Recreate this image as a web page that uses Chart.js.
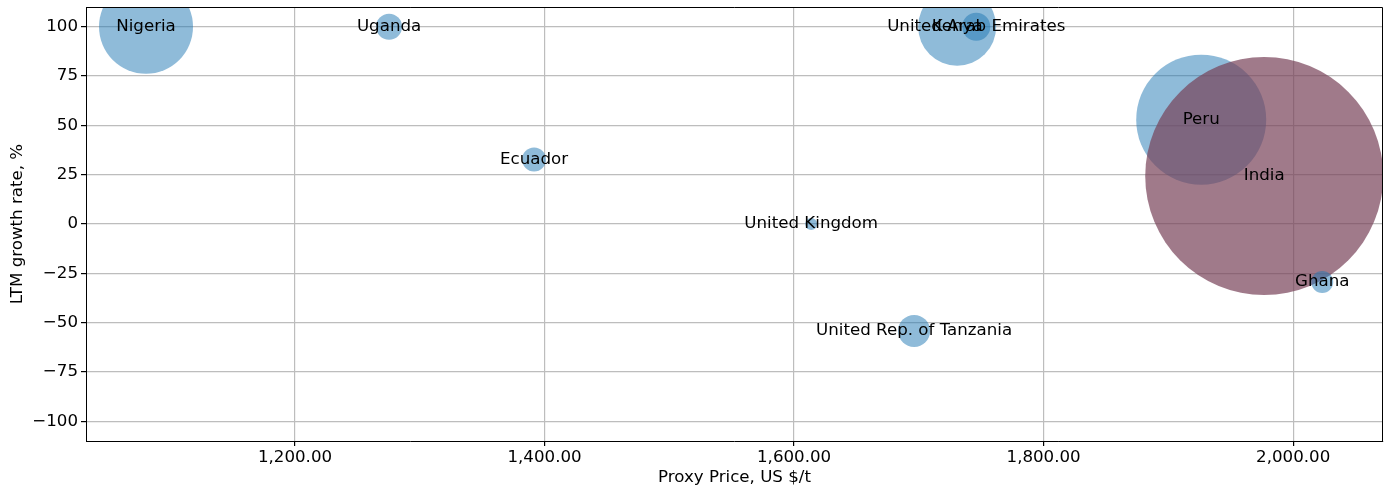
<!DOCTYPE html>
<html>
<head>
<meta charset="utf-8">
<script src="https://cdn.jsdelivr.net/npm/chart.js@4.4.1/dist/chart.umd.min.js"></script>
<style>
  html, body { margin: 0; padding: 0; background: #fff; }
  #wrap { width: 1389px; height: 489px; }
</style>
</head>
<body>
<div id="wrap"><canvas id="bubbleChart" width="1389" height="489"></canvas></div>
<script>
const countries = ["Nigeria", "Uganda", "Ecuador", "United Kingdom", "United Rep. of Tanzania",
  "Kenya", "United Arab Emirates", "Peru", "India", "Ghana"];
const proxyPrice = [1080.6, 1275.4, 1391.6, 1613.7, 1696.2, 1730.7, 1746.0, 1926.3, 1976.8, 2023.3];
const growthRate = [100, 100, 32.7, 0, -54.2, 100, 100, 52.9, 24.3, -29.4];
const bubbleSize = [47, 13, 12, 6, 16, 39, 14, 65, 119, 11];
const xTicks = [1200, 1400, 1600, 1800, 2000];
const yTicks = [-100, -75, -50, -25, 0, 25, 50, 75, 100];
const highlight = "India";

const FONT = "'DejaVu Sans', sans-serif";
const points = countries.map((c, i) => ({ x: proxyPrice[i], y: growthRate[i], r: bubbleSize[i] }));
const colors = countries.map(c => c === highlight ? "rgba(119, 65, 88, 0.7)" : "rgba(31, 119, 180, 0.5)");

const labelPlugin = {
  id: "bubbleLabels",
  afterDatasetsDraw(chart) {
    const ctx = chart.ctx;
    const meta = chart.getDatasetMeta(0);
    ctx.save();
    ctx.font = "16.67px " + FONT;
    ctx.fillStyle = "#000";
    ctx.textAlign = "center";
    ctx.textBaseline = "middle";
    meta.data.forEach((pt, i) => {
      ctx.fillText(countries[i], pt.x, pt.y);
    });
    ctx.restore();
  }
};

// top and right spines (left/bottom come from the axis borders)
const framePlugin = {
  id: "frame",
  afterDraw(chart) {
    const a = chart.chartArea;
    const ctx = chart.ctx;
    ctx.save();
    ctx.strokeStyle = "#000";
    ctx.lineWidth = 1;
    ctx.beginPath();
    ctx.moveTo(a.left, a.top + 0.5);
    ctx.lineTo(a.right - 0.5, a.top + 0.5);
    ctx.lineTo(a.right - 0.5, a.bottom);
    ctx.stroke();
    ctx.restore();
  }
};

new Chart(document.getElementById("bubbleChart"), {
  type: "bubble",
  data: {
    datasets: [{
      data: points,
      backgroundColor: colors,
      borderWidth: 0,
      hoverRadius: 0
    }]
  },
  options: {
    responsive: false,
    animation: false,
    events: [],
    layout: { autoPadding: false, padding: { top: 7, right: 6, left: 0, bottom: 0 } },
    plugins: { legend: { display: false }, tooltip: { enabled: false } },
    scales: {
      x: {
        type: "linear",
        min: 1032.5,
        max: 2072,
        z: 1,
        afterBuildTicks: s => { s.ticks = xTicks.map(v => ({ value: v })); },
        afterFit: s => { s.height = 48; s.paddingLeft = 0; s.paddingRight = 0; },
        ticks: {
          color: "#000",
          font: { family: FONT, size: 16.67 },
          padding: 2,
          maxRotation: 0,
          callback: v => v.toLocaleString("en-US", { minimumFractionDigits: 2, maximumFractionDigits: 2 })
        },
        grid: { color: "#bdbdbd", lineWidth: 1.2, tickColor: "#000", tickLength: 5 },
        border: { display: true, color: "#000", width: 1 },
        title: {
          display: true,
          text: "Proxy Price, US $/t",
          color: "#000",
          font: { family: FONT, size: 16.67 },
          padding: { top: 0, bottom: 1 }
        }
      },
      y: {
        type: "linear",
        min: -110,
        max: 110,
        z: 1,
        afterBuildTicks: s => { s.ticks = yTicks.map(v => ({ value: v })); },
        afterFit: s => { s.width = 86; s.paddingTop = 0; s.paddingBottom = 0; },
        ticks: {
          color: "#000",
          font: { family: FONT, size: 16.67 },
          padding: 3,
          callback: v => String(v).replace("-", "\u2212")
        },
        grid: { color: "#bdbdbd", lineWidth: 1.2, tickColor: "#000", tickLength: 5 },
        border: { display: true, color: "#000", width: 1 },
        title: {
          display: true,
          text: "LTM growth rate, %",
          color: "#000",
          font: { family: FONT, size: 16.67 },
          padding: { top: 8, bottom: 0 }
        }
      }
    }
  },
  plugins: [labelPlugin, framePlugin]
});
</script>
</body>
</html>
